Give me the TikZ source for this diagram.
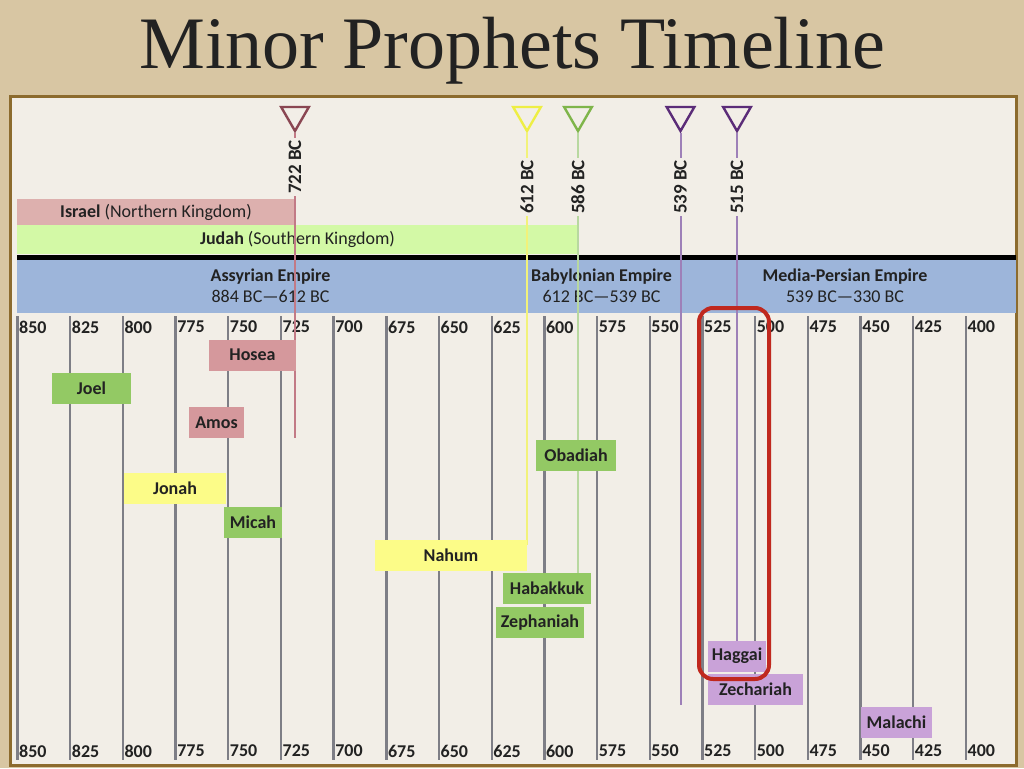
\documentclass[tikz,border=0pt]{standalone}
\usepackage{fontspec}
\setmainfont{Carlito}
\newfontfamily\titlefont{Liberation Serif}
\usetikzlibrary{shapes.geometric}
\definecolor{pagetan}{HTML}{D8C6A3}
\definecolor{paper}{HTML}{F2EEE7}
\definecolor{rim}{HTML}{8C6B2E}
\definecolor{israelpink}{HTML}{DDB0AE}
\definecolor{judahgreen}{HTML}{D3F9A6}
\definecolor{bandblue}{HTML}{9DB5DA}
\definecolor{pinkbox}{HTML}{D5989C}
\definecolor{greenbox}{HTML}{93C964}
\definecolor{yellowbox}{HTML}{FCFC88}
\definecolor{purplebox}{HTML}{C9A2D8}
\definecolor{gridgray}{HTML}{7E7E86}
\definecolor{tri722}{HTML}{8A4652}
\definecolor{line722}{HTML}{C27A86}
\definecolor{tri612}{HTML}{EEEE44}
\definecolor{line612}{HTML}{F2F27A}
\definecolor{tri586}{HTML}{7FB54A}
\definecolor{line586}{HTML}{B8D8A0}
\definecolor{tripurple}{HTML}{5B2C78}
\definecolor{linepurple}{HTML}{9E80B8}
\definecolor{frame}{HTML}{C0281E}
\definecolor{ink}{HTML}{222222}
\begin{document}
\begin{tikzpicture}[x=1pt, y=-1pt,
	bar/.style={inner sep=0pt, text=ink, font=\fontsize{18}{21}\selectfont},
	empire/.style={align=center, text=ink, font=\fontsize{18}{21}\selectfont},
	gridline/.style={draw=gridgray, line width=2.4pt},
	yearlbl/.style={anchor=west, inner sep=1.5pt, text=ink, font=\fontsize{18}{21}\selectfont\bfseries},
	marktri/.style={regular polygon, regular polygon sides=3, shape border rotate=180, minimum size=32pt, inner sep=0pt, line width=2.4pt},
	marklbl/.style={rotate=90, inner sep=2pt, text=ink, font=\fontsize{19}{22}\selectfont\bfseries},
	markline/.style={line width=2pt},
	prophet/.style={inner sep=0pt, minimum height=31pt, text=ink, font=\fontsize{18}{21}\selectfont\bfseries}]
	\useasboundingbox (0,0) rectangle (1024,768);
	\fill[pagetan] (0,0) rectangle (1024,768);
	\draw[rim, fill=paper, line width=3pt] (10,96) rectangle (1016,765);
	\node[anchor=base, text=ink, font=\fontsize{74}{80}\titlefont] (0) at (512,68) {Minor Prophets Timeline};
	\node[bar, fill=israelpink, minimum width=278pt, minimum height=26pt] (1) at (156,212) {\textbf{Israel} (Northern Kingdom)};
	\node[bar, fill=judahgreen, minimum width=561pt, minimum height=29pt] (2) at (297.5,239.5) {\textbf{Judah} (Southern Kingdom)};
	\fill[black] (17,254.5) rectangle (1016,259.5);
	\fill[bandblue] (17,259.5) rectangle (1016,313);
	\node[empire] (3) at (270.5,286) {\textbf{Assyrian Empire}\\884 BC—612 BC};
	\node[empire] (4) at (601.5,286) {\textbf{Babylonian Empire}\\612 BC—539 BC};
	\node[empire] (5) at (845,286) {\textbf{Media-Persian Empire}\\539 BC—330 BC};
	\foreach \yr [count=\i from 0] in {850,825,...,400} {
		\draw[gridline] (17.5+\i*52.69,316) -- (17.5+\i*52.69,760);
		\node[yearlbl] (t\i) at (17.5+\i*52.69,327) {\yr};
		\node[yearlbl] (b\i) at (17.5+\i*52.69,751) {\yr};
	}
	\node[marktri, draw=tri722] (6) at (295,115) {};
	\node[marklbl] (7) at (295,167) {722 BC};
	\coordinate (8) at (295,438);
	\node[marktri, draw=tri612] (9) at (527,115) {};
	\node[marklbl] (10) at (527,187) {612 BC};
	\coordinate (11) at (527,545);
	\node[marktri, draw=tri586] (12) at (578,115) {};
	\node[marklbl] (13) at (578,187) {586 BC};
	\coordinate (14) at (578,590);
	\node[marktri, draw=tripurple] (15) at (680.5,115) {};
	\node[marklbl] (16) at (680.5,187) {539 BC};
	\coordinate (17) at (680.5,705);
	\node[marktri, draw=tripurple] (18) at (737,115) {};
	\node[marklbl] (19) at (737,187) {515 BC};
	\coordinate (20) at (737,650);
	\draw[markline, line722] (6.south) to (7.east);
	\draw[markline, line722] (7.west) to (8);
	\draw[markline, line612] (9.south) to (10.east);
	\draw[markline, line612] (10.west) to (11);
	\draw[markline, line586] (12.south) to (13.east);
	\draw[markline, line586] (13.west) to (14);
	\draw[markline, linepurple] (15.south) to (16.east);
	\draw[markline, linepurple] (16.west) to (17);
	\draw[markline, linepurple] (18.south) to (19.east);
	\draw[markline, linepurple] (19.west) to (20);
	\node[prophet, fill=pinkbox, minimum width=87pt] (21) at (252.5,355) {Hosea};
	\node[prophet, fill=greenbox, minimum width=79pt] (22) at (91.5,388.5) {Joel};
	\node[prophet, fill=pinkbox, minimum width=55pt] (23) at (216.5,422.5) {Amos};
	\node[prophet, fill=greenbox, minimum width=80pt] (24) at (576,455.5) {Obadiah};
	\node[prophet, fill=yellowbox, minimum width=102pt] (25) at (175,488.5) {Jonah};
	\node[prophet, fill=greenbox, minimum width=58pt] (26) at (253,522.5) {Micah};
	\node[prophet, fill=yellowbox, minimum width=152pt] (27) at (451,555) {Nahum};
	\node[prophet, fill=greenbox, minimum width=88pt] (28) at (547,588.5) {Habakkuk};
	\node[prophet, fill=greenbox, minimum width=88pt] (29) at (540,622.5) {Zephaniah};
	\node[prophet, fill=purplebox, minimum width=58pt] (30) at (737,656) {Haggai};
	\node[prophet, fill=purplebox, minimum width=95pt] (31) at (755.5,689.5) {Zechariah};
	\node[prophet, fill=purplebox, minimum width=71pt] (32) at (896.5,722.5) {Malachi};
	\draw[frame, line width=4pt, rounded corners=14pt] (699,308) rectangle (769,679);
\end{tikzpicture}
\end{document}
